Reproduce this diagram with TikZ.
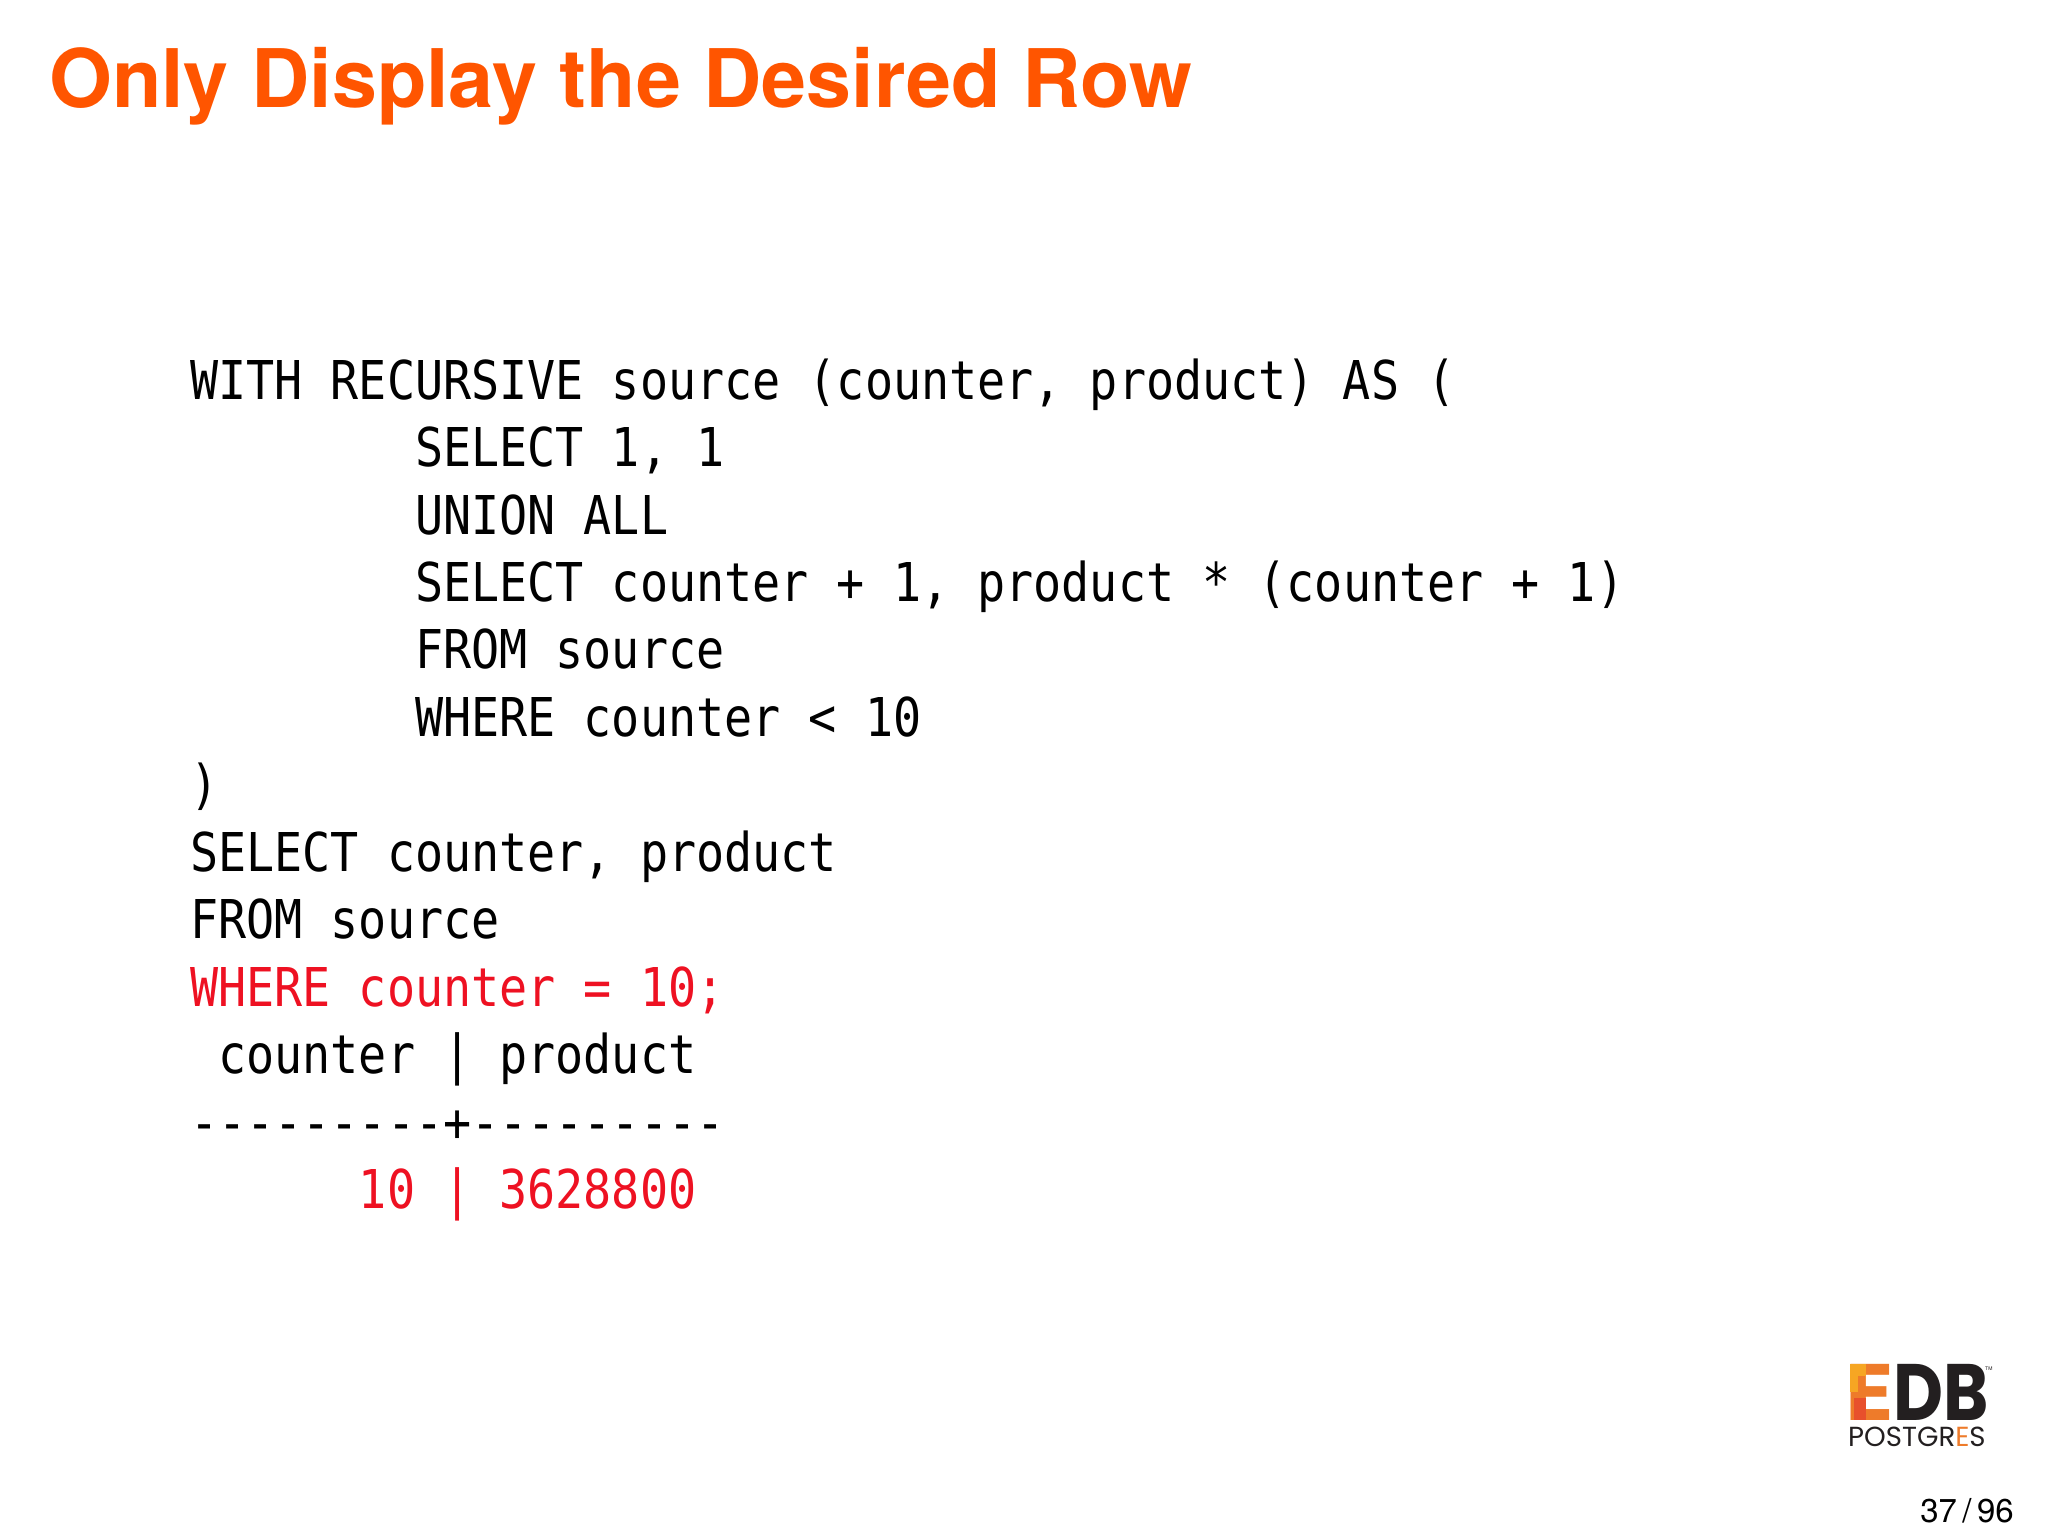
\documentclass[tikz,border=0pt]{standalone}
\usepackage{fontspec}
\usepackage{xcolor}
\setmainfont{TeX Gyre Heros}
\setmonofont[FakeStretch=0.873]{DejaVu Sans Mono}
\newfontfamily\logofont{Poppins}
\definecolor{edborange}{HTML}{FF5500}
\definecolor{sqlred}{HTML}{EE1122}
\definecolor{logoE}{HTML}{EE7B2A}
\definecolor{logoY}{HTML}{F6A623}
\definecolor{logoR}{HTML}{E8502C}
\definecolor{logoK}{HTML}{231F20}
\tikzstyle{titlebox} = [inner sep=0pt, anchor=base west, text=edborange, font=\fontsize{80.8}{90}\selectfont\bfseries]
\tikzstyle{codebox} = [inner sep=0pt, anchor=base west, align=left, font=\fontsize{53.5}{67.45}\selectfont\ttfamily]
\tikzstyle{pagebox} = [inner sep=0pt, anchor=base east, font=\fontsize{33}{36}\selectfont]
\tikzstyle{logobox} = [inner sep=0pt, anchor=base west, text depth=0pt, text=logoK, font=\fontsize{80}{80}\selectfont\logofont\bfseries]

\begin{document}
\begin{tikzpicture}[x=1pt,y=-1pt]
    \useasboundingbox (0,0) rectangle (2048,1536);
    \fill[white] (0,0) rectangle (2048,1536);
    \node [titlebox] (title) at (49,108) {Only Display the Desired Row};
    \node [codebox] (code) at (190,1208.5) {%
WITH RECURSIVE source (counter, product) AS (\\
~~~~~~~~SELECT 1, 1\\
~~~~~~~~UNION ALL\\
~~~~~~~~SELECT counter + 1, product * (counter + 1)\\
~~~~~~~~FROM source\\
~~~~~~~~WHERE counter < 10\\
)\\
SELECT counter, product\\
FROM source\\
\textcolor{sqlred}{WHERE counter = 10;}\\
~counter | product\\
---------+---------\\
\textcolor{sqlred}{~~~~~~10 | 3628800}
    };
    % logo
    \node [logobox, text=logoE, xscale=1.12] (edbe) at (1845.5,1420) {E};
    \fill[logoY] (1850,1364) rectangle (1866,1376);
    \fill[logoY] (1850,1376) rectangle (1858,1392);
    \fill[logoR] (1854,1398) rectangle (1866,1420);
    \node [logobox, xscale=0.86] (edbdb) at (1893,1420) {DB};
    \node [inner sep=0pt, anchor=base west, text=logoK, font=\fontsize{5}{6}\selectfont] (tm) at (1985,1370) {TM};
    \node [inner sep=0pt, anchor=base west, text=logoK, font=\fontsize{27.6}{30}\selectfont\logofont] (postgres) at (1848,1446) {POSTGR\textcolor{logoE}{E}S};
    \node [pagebox] (page) at (2014,1522) {37\,/\,96};
\end{tikzpicture}
\end{document}
